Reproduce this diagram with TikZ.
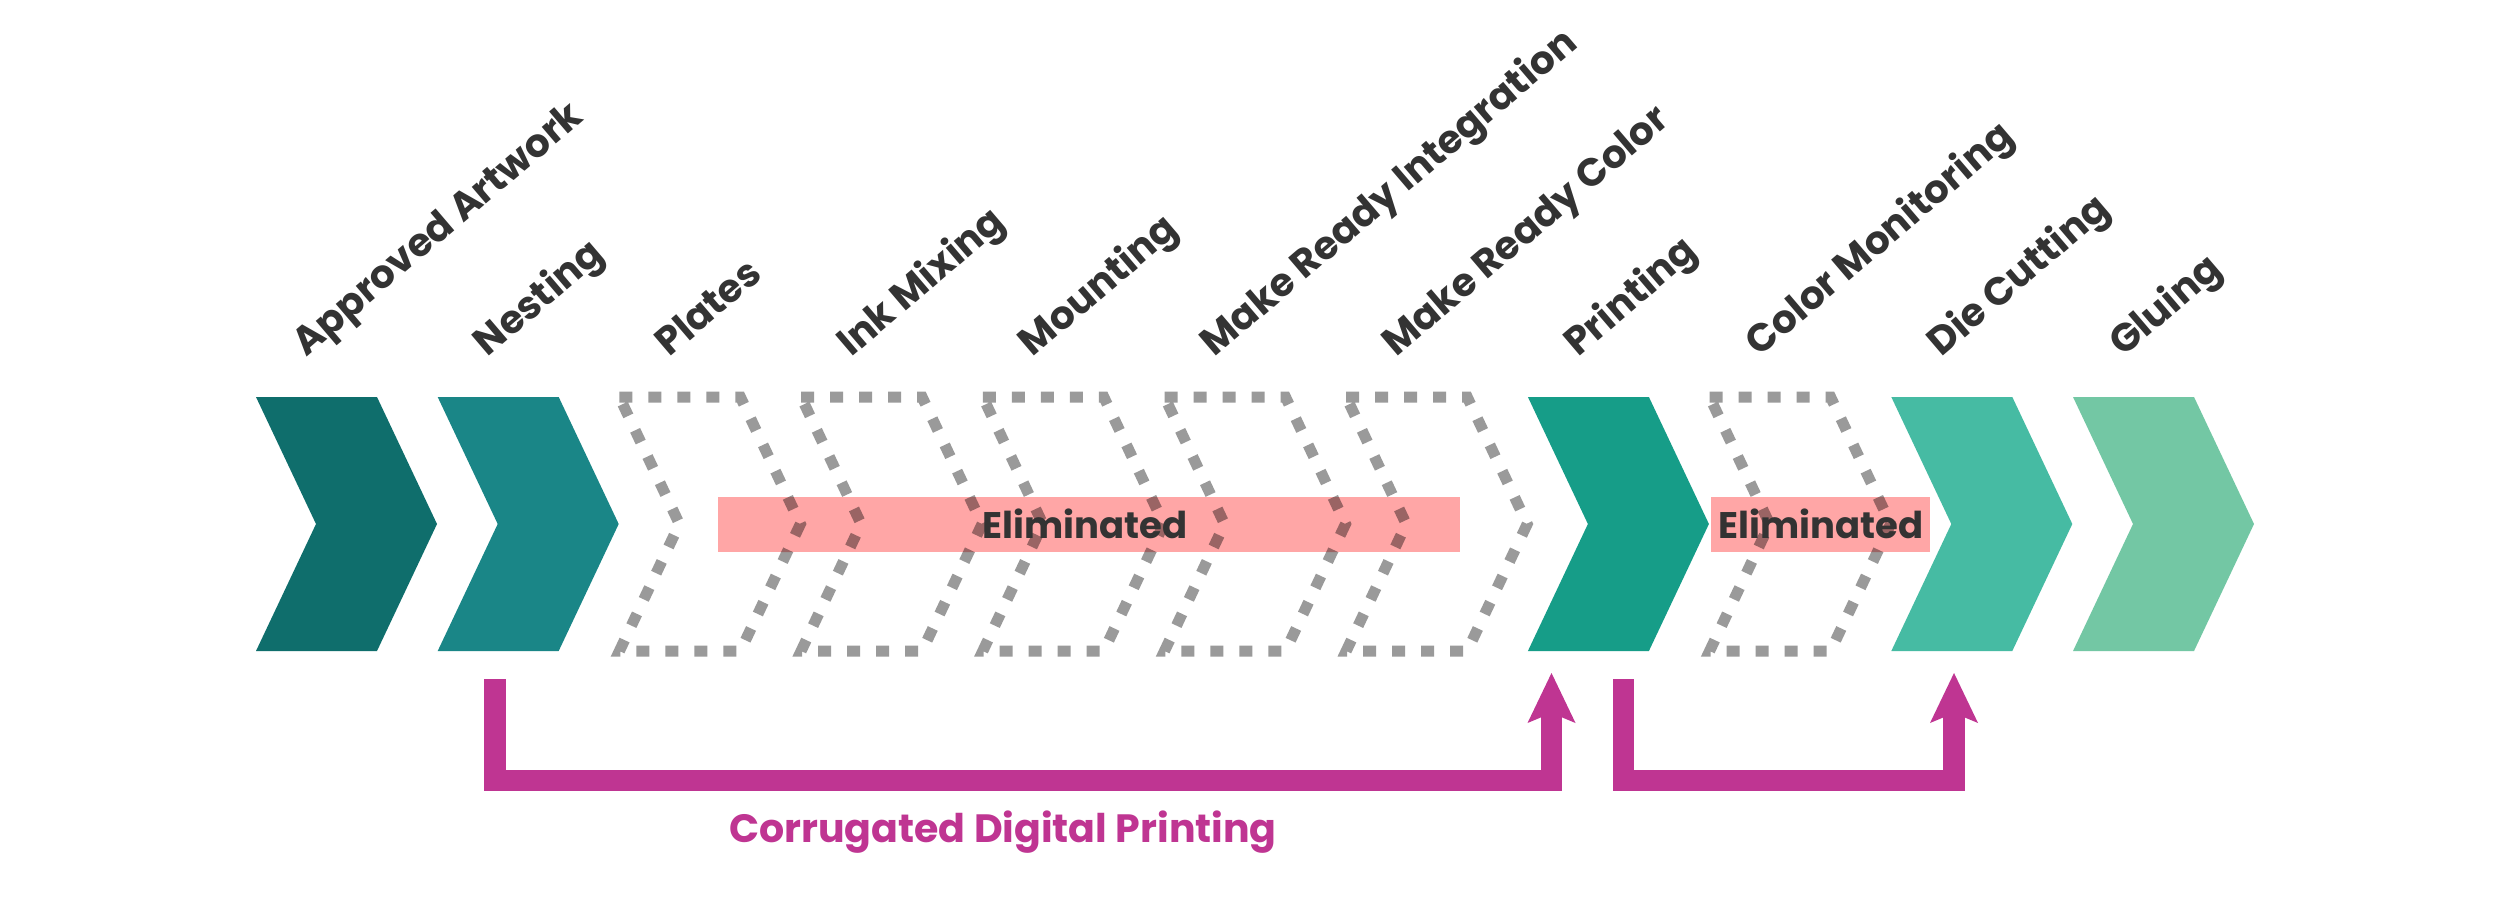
\documentclass[tikz,border=0pt]{standalone}
\usepackage{fontspec}
\setmainfont{Poppins}
\usetikzlibrary{arrows.meta}
\definecolor{cA}{HTML}{0F6E6C}
\definecolor{cB}{HTML}{1A8687}
\definecolor{cP}{HTML}{169D88}
\definecolor{cD}{HTML}{46BBA3}
\definecolor{cG}{HTML}{73C7A4}
\definecolor{dashgray}{HTML}{9A9A9A}
\definecolor{elimpink}{HTML}{FFA6A6}
\definecolor{elimdark}{HTML}{9A6464}
\definecolor{flowmag}{HTML}{BF3592}
\definecolor{txt}{HTML}{333333}
\tikzset{
  chev/.pic={\path[pic actions] (0,0) -- (121,0) -- (181,127) -- (121,254) -- (0,254) -- (60,127) -- cycle;},
  lbl/.style={anchor=base west, rotate=40.5, inner sep=0pt, font=\bfseries\fontsize{39}{42}\selectfont, text=txt},
  elimtext/.style={anchor=base, inner sep=0pt, font=\bfseries\fontsize{37}{40}\selectfont, text=txt},
  dashchev/.style={line width=11pt, dash pattern=on 13pt off 16pt, line join=miter},
  flow/.style={line width=21.5pt, draw=flowmag, line join=miter, -{Stealth[length=50pt,width=48pt,inset=10pt,line width=0pt]}},
  band/.style={fill=elimpink},
}
\begin{document}
\begin{tikzpicture}[x=1pt,y=-1pt]
\useasboundingbox (0,0) rectangle (2500,902);
\fill[white] (0,0) rectangle (2500,902);
% filled chevrons
\pic[fill=cA] at (256,397) {chev};
\pic[fill=cB] at (437.7,397) {chev};
\pic[fill=cP] at (1527.9,397) {chev};
\pic[fill=cD] at (1891.3,397) {chev};
\pic[fill=cG] at (2073,397) {chev};
% dashed chevrons
\foreach \x in {619.4,801.1,982.8,1164.5,1346.2,1709.6}
  \pic[draw=dashgray, dashchev] at (\x,397) {chev};
% bands
\path[band] (718,497) rectangle (1460,552);
\path[band] (1711,497) rectangle (1930,552);
\begin{scope}
  \clip (718,497) rectangle (1460,552) (1711,497) rectangle (1930,552);
  \foreach \x in {619.4,801.1,982.8,1164.5,1346.2,1709.6}
    \pic[draw=elimdark, dashchev] at (\x,397) {chev};
\end{scope}
\node[elimtext] (e1) at (1085,538) {Eliminated};
\node[elimtext] (e2) at (1821,538) {Eliminated};
% labels
\node[lbl] (l0) at (306,358) {Approved Artwork};
\node[lbl] (l1) at (487.7,358) {Nesting};
\node[lbl] (l2) at (669.4,358) {Plates};
\node[lbl] (l3) at (851.1,358) {Ink Mixing};
\node[lbl] (l4) at (1032.8,358) {Mounting};
\node[lbl] (l5) at (1214.5,358) {Make Ready Integration};
\node[lbl] (l6) at (1396.2,358) {Make Ready Color};
\node[lbl] (l7) at (1577.9,358) {Printing};
\node[lbl] (l8) at (1759.6,358) {Color Monitoring};
\node[lbl] (l9) at (1941.3,358) {Die Cutting};
\node[lbl] (l10) at (2123,358) {Gluing};
% flow arrows
\coordinate (s1) at (495,679);
\coordinate (k1) at (1551.5,780.5);
\coordinate (t1) at (1551.5,673);
\coordinate (s2) at (1623.5,679);
\coordinate (k2) at (1954,780.5);
\coordinate (t2) at (1954,673);
\draw[flow] (s1) |- (k1) -- (t1);
\draw[flow] (s2) |- (k2) -- (t2);
\node[anchor=base, inner sep=0pt, font=\bfseries\fontsize{39.5}{44}\selectfont, text=flowmag] (cdp) at (1003,842) {Corrugated Digital Printing};
\end{tikzpicture}
\end{document}
